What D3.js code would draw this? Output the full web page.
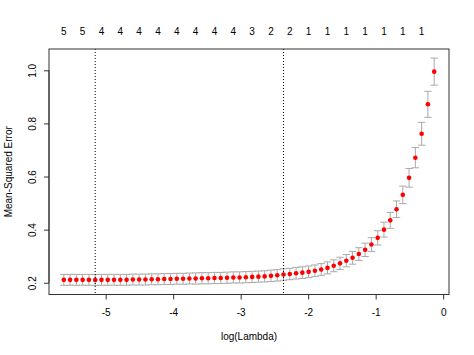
<!DOCTYPE html>
<html>
<head>
<meta charset="utf-8">
<script src="https://cdn.jsdelivr.net/npm/d3@7"></script>
<style>
body { margin: 0; background: #fff; }
text { font-family: "Liberation Sans", Arial, Helvetica, sans-serif; font-size: 10px; fill: #000; }
</style>
</head>
<body>
<svg id="chart" width="474" height="355"></svg>
<script>
// log(Lambda) values, left to right
const logLambda = [
  -5.620, -5.527, -5.434, -5.341, -5.248, -5.155, -5.062, -4.969, -4.876, -4.783,
  -4.690, -4.597, -4.504, -4.411, -4.318, -4.225, -4.132, -4.039, -3.946, -3.853,
  -3.760, -3.667, -3.574, -3.481, -3.388, -3.295, -3.202, -3.109, -3.016, -2.923,
  -2.830, -2.737, -2.644, -2.551, -2.458, -2.365, -2.272, -2.179, -2.086, -1.993,
  -1.900, -1.807, -1.714, -1.621, -1.528, -1.435, -1.342, -1.249, -1.156, -1.063,
  -0.970, -0.877, -0.784, -0.691, -0.598, -0.505, -0.412, -0.319, -0.226, -0.133
];
// cross-validated mean-squared error
const cvm = [
  0.211, 0.211, 0.211, 0.211, 0.211, 0.2105, 0.211, 0.211, 0.211, 0.211,
  0.211, 0.212, 0.212, 0.212, 0.213, 0.213, 0.214, 0.214, 0.215, 0.215,
  0.216, 0.216, 0.217, 0.217, 0.218, 0.218, 0.219, 0.220, 0.220, 0.221,
  0.222, 0.223, 0.224, 0.226, 0.228, 0.231, 0.233, 0.236, 0.238, 0.241,
  0.245, 0.250, 0.256, 0.264, 0.273, 0.283, 0.294, 0.308, 0.324, 0.344,
  0.369, 0.400, 0.435, 0.477, 0.531, 0.595, 0.671, 0.761, 0.872, 0.995
];
// standard error of cvm
const cvsd = [
  0.0205, 0.0205, 0.0205, 0.0205, 0.0205, 0.0205, 0.0205, 0.0205, 0.0205, 0.0205,
  0.0205, 0.0205, 0.0205, 0.0205, 0.0205, 0.0205, 0.0205, 0.0205, 0.0205, 0.0205,
  0.0205, 0.021, 0.021, 0.021, 0.021, 0.021, 0.021, 0.021, 0.021, 0.021,
  0.021, 0.021, 0.021, 0.0215, 0.0215, 0.0215, 0.0215, 0.022, 0.022, 0.022,
  0.022, 0.022, 0.0225, 0.0225, 0.023, 0.023, 0.024, 0.024, 0.025, 0.026,
  0.027, 0.028, 0.030, 0.031, 0.033, 0.035, 0.038, 0.043, 0.049, 0.051
];
// number of nonzero coefficients shown on top (every third lambda, from left)
const nzeroLabels = ["5","5","4","4","4","4","4","4","4","4","3","2","2","1","1","1","1","1","1","1"];
const nzeroIndex = [0,3,6,9,12,15,18,21,24,27,30,33,36,39,42,45,48,51,54,57];
const xTicks = [-5, -4, -3, -2, -1, 0];
const yTicks = [0.2, 0.4, 0.6, 0.8, 1.0];
const lambdaMinLog = -5.155;
const lambda1seLog = -2.365;

const svg = d3.select("#chart");
const L = 49, R = 449, T = 49, B = 294.5;

function ext(a, b) { const d = (b - a) * 0.04; return [a - d, b + d]; }
const xDom = ext(d3.min(logLambda), d3.max(logLambda));
const lo = cvm.map((v, i) => v - cvsd[i]);
const hi = cvm.map((v, i) => v + cvsd[i]);
const yDom = ext(d3.min(lo), d3.max(hi));

const x = d3.scaleLinear().domain(xDom).range([L, R]);
const y = d3.scaleLinear().domain(yDom).range([B, T]);

const data = logLambda.map((lx, i) => ({ x: lx, m: cvm[i], lo: lo[i], hi: hi[i] }));

// error bars
const eb = svg.append("g").attr("stroke", "#a9a9a9").attr("stroke-width", 1).attr("fill", "none");
const capHalf = (x(xDom[1]) - x(xDom[0])) / 1.08 * 0.01;
data.forEach(d => {
  const px = x(d.x);
  eb.append("line").attr("x1", px).attr("x2", px).attr("y1", y(d.lo)).attr("y2", y(d.hi));
  eb.append("line").attr("x1", px - capHalf).attr("x2", px + capHalf).attr("y1", y(d.lo)).attr("y2", y(d.lo));
  eb.append("line").attr("x1", px - capHalf).attr("x2", px + capHalf).attr("y1", y(d.hi)).attr("y2", y(d.hi));
});

// points
svg.append("g").selectAll("circle").data(data).join("circle")
  .attr("cx", d => x(d.x)).attr("cy", d => y(d.m)).attr("r", 2.3)
  .attr("fill", "#ff0000");

// vertical dotted lines
[lambdaMinLog, lambda1seLog].forEach(v => {
  svg.append("line").attr("x1", x(v)).attr("x2", x(v)).attr("y1", T).attr("y2", B)
    .attr("stroke", "#000").attr("stroke-width", 1).attr("stroke-dasharray", "1,2");
});

// box
svg.append("rect").attr("x", L).attr("y", T).attr("width", R - L).attr("height", B - T)
  .attr("fill", "none").attr("stroke", "#333").attr("stroke-width", 1);

// x axis
const xa = svg.append("g").attr("transform", `translate(0,${B})`)
  .call(d3.axisBottom(x).tickValues(xTicks).tickSize(5).tickPadding(8).tickFormat(d3.format("d")));
xa.select(".domain").attr("d", `M${x(xTicks[0])},0H${x(xTicks[xTicks.length-1])}`).attr("stroke", "#333");
xa.selectAll(".tick line").attr("stroke", "#333");
xa.selectAll("text").attr("font-size", 10).attr("fill", "#000").attr("y", 18.2).attr("dy", "0.35em")
  .text(d => d < 0 ? "-" + Math.abs(d) : d);

// y axis
const ya = svg.append("g").attr("transform", `translate(${L},0)`)
  .call(d3.axisLeft(y).tickValues(yTicks).tickSize(5).tickFormat(d3.format(".1f")));
ya.select(".domain").attr("d", `M0,${y(yTicks[0])}V${y(yTicks[yTicks.length-1])}`).attr("stroke", "#333");
ya.selectAll(".tick line").attr("stroke", "#333");
ya.selectAll(".tick text").attr("font-size", 10).attr("fill", "#000")
  .attr("x", null).attr("dy", null)
  .attr("text-anchor", "middle")
  .attr("transform", "translate(-17,0) rotate(-90)")
  .attr("dy", "0.35em");

// top labels
svg.append("g").selectAll("text").data(nzeroIndex).join("text")
  .attr("x", (d) => x(logLambda[d])).attr("y", 31.7).attr("dy", "0.35em")
  .attr("text-anchor", "middle").text((d, i) => nzeroLabels[i]);

// axis titles
svg.append("text").attr("x", (L + R) / 2).attr("y", 336.7).attr("dy", "0.35em")
  .attr("text-anchor", "middle").text("log(Lambda)");
svg.append("text").attr("transform", `translate(8.5,${(T + B) / 2}) rotate(-90)`)
  .attr("dy", "0.35em").attr("text-anchor", "middle").text("Mean-Squared Error");
</script>
</body>
</html>
